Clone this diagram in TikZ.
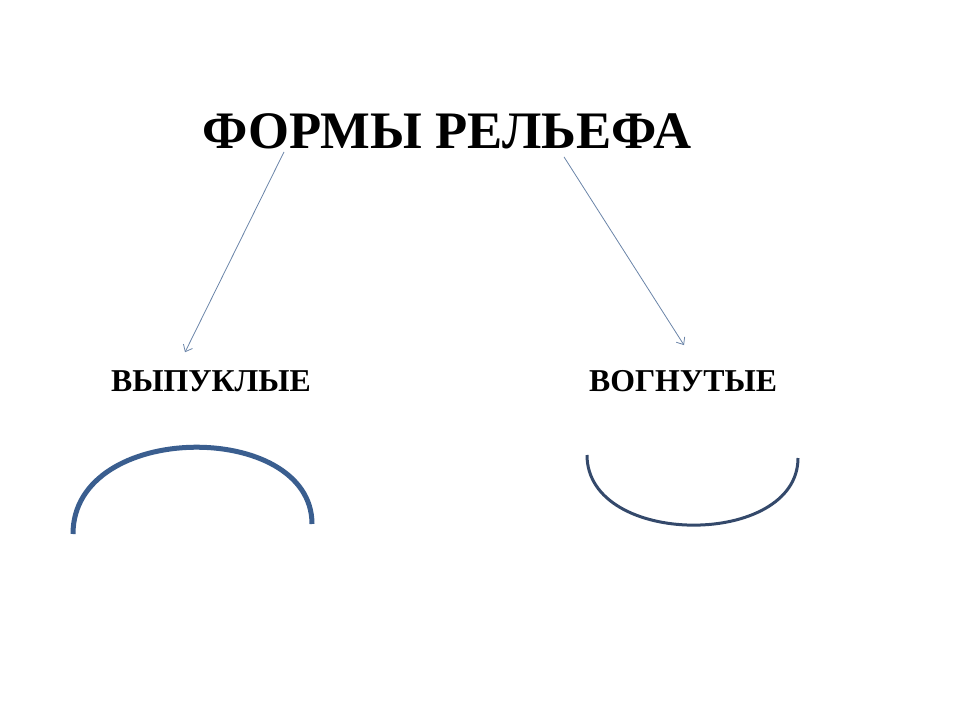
\documentclass[tikz,border=0pt]{standalone}
\usepackage{fontspec}
\setmainfont{Liberation Serif}
\usetikzlibrary{arrows.meta,positioning}
\definecolor{arrowblue}{HTML}{6A84A8}
\definecolor{arcblue}{HTML}{3A5E8F}
\definecolor{arcdark}{HTML}{34496B}

\begin{document}
\begin{tikzpicture}[x=1pt, y=-1pt]
\useasboundingbox (0,0) rectangle (960,720);
\node[font=\fontsize{52.7}{60}\selectfont\bfseries, inner sep=0pt] (title) at (447,131) {ФОРМЫ РЕЛЬЕФА};
\node[font=\fontsize{31.8}{36}\selectfont\bfseries, inner sep=0pt] (convex) at (211,381) {ВЫПУКЛЫЕ};
\node[font=\fontsize{31.8}{36}\selectfont\bfseries, inner sep=0pt] (concave) at (683,381) {ВОГНУТЫЕ};
\draw[-{Straight Barb[length=6pt, width=10pt]}, arrowblue, line width=0.8pt] ([xshift=-163pt, yshift=-3pt]title.south) -- ([xshift=-26pt, yshift=18pt]convex.north);
\draw[-{Straight Barb[length=6pt, width=10pt]}, arrowblue, line width=0.8pt] ([xshift=117pt, yshift=-8pt]title.south) -- ([xshift=1pt, yshift=25pt]concave.north);
% shapes under the labels
\draw[arcblue, line width=5pt] (73,534) .. controls (73,420) and (312,420) .. (312,524);
\draw[arcdark, line width=3pt] (587,455) .. controls (587,548) and (798,548) .. (798,458);
\end{tikzpicture}
\end{document}
